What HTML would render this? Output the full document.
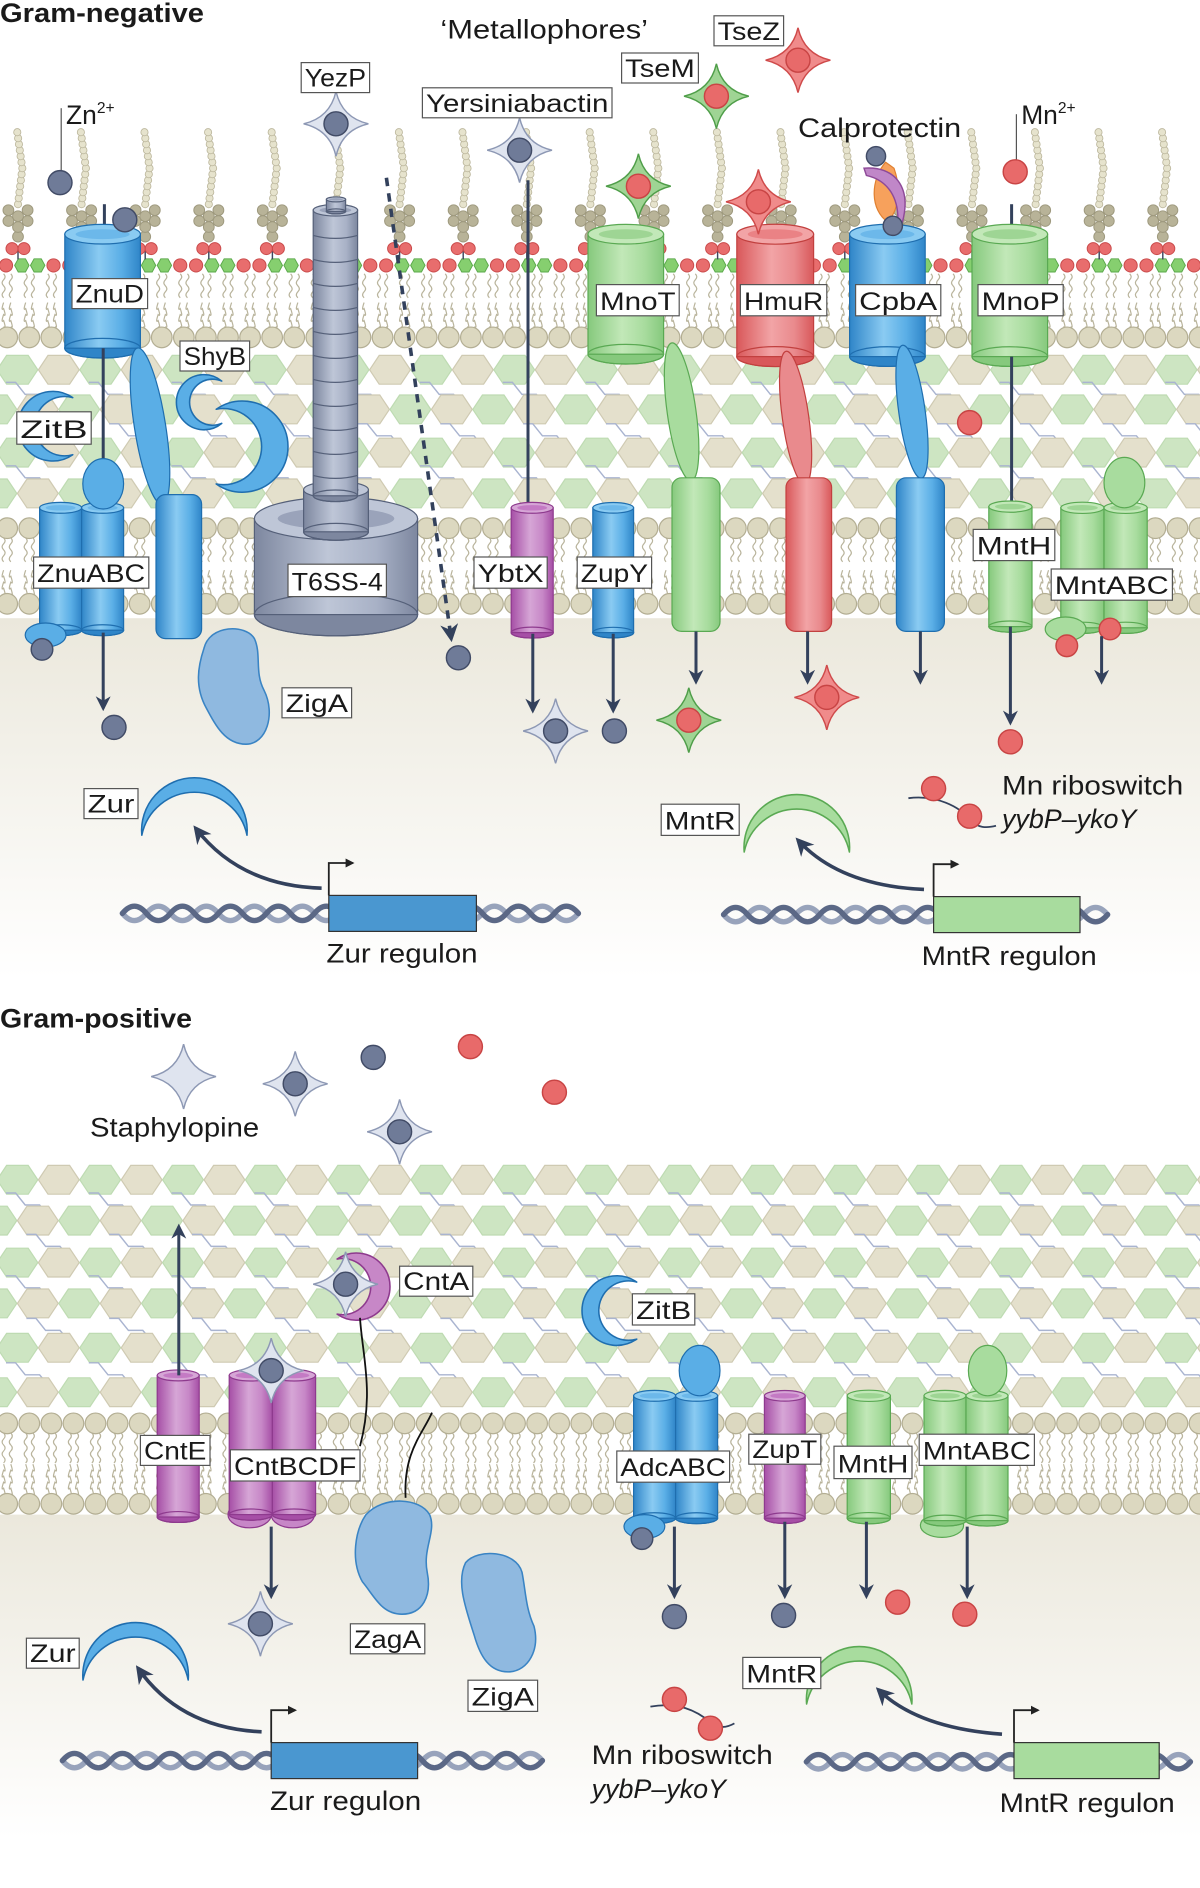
<!DOCTYPE html>
<html><head><meta charset="utf-8">
<style>
html,body{margin:0;padding:0;background:#fff;}
svg{display:block;}
text{font-family:"Liberation Sans",sans-serif;fill:#1a1a1a;}
</style></head>
<body>
<svg id="s" xmlns="http://www.w3.org/2000/svg" width="1200" height="1888" viewBox="0 0 1000 1573"></svg>
<script>
const S=[];const A=s=>S.push(s);
const C={
 blue:{d:'#2f85c8',m:'#5aaee6',l:'#8acbf2',s:'#1f6eaf',t:'#6cb8ea'},
 green:{d:'#86c97d',m:'#a8dc9e',l:'#c2e8b8',s:'#5aa953',t:'#9ed594'},
 red:{d:'#d9585a',m:'#e98a8d',l:'#f2a4a6',s:'#c2403f',t:'#ea8285'},
 purple:{d:'#a64fa6',m:'#c787c7',l:'#d6a6d6',s:'#8e3a8e',t:'#c47ac4'},
 grey:{d:'#7d879f',m:'#a8b1c6',l:'#bec6d7',s:'#556079',t:'#9aa3ba'}};
let defs='<defs>';
for(const k in C){const c=C[k];defs+=`<linearGradient id="g_${k}" x1="0" x2="1" y1="0" y2="0"><stop offset="0" stop-color="${c.d}"/><stop offset="0.45" stop-color="${c.l}"/><stop offset="0.75" stop-color="${c.m}"/><stop offset="1" stop-color="${c.d}"/></linearGradient>`;}
defs+=`<linearGradient id="cyt1" x1="0" x2="0" y1="0" y2="1"><stop offset="0" stop-color="#ebe8dc"/><stop offset="1" stop-color="#ffffff"/></linearGradient>`;
defs+=`<marker id="ah" viewBox="0 0 10 10" refX="8" refY="5" markerWidth="5" markerHeight="5" orient="auto-start-reverse"><path d="M0,0 L10,5 L0,10 L3,5 Z" fill="#33415c"/></marker>`;
defs+=`<marker id="ahk" viewBox="0 0 10 10" refX="8" refY="5" markerWidth="5" markerHeight="5" orient="auto"><path d="M0,0 L10,5 L0,10 Z" fill="#222"/></marker>`;
defs+='</defs>';A(defs);

A(`<rect x="0" y="515" width="1000" height="300" fill="url(#cyt1)"/>`);
A(`<rect x="0" y="1262" width="1000" height="270" fill="url(#cyt1)"/>`);

const BALL='#dcd8c0',BALLS='#b3ae93';
function wav(x,y,len,dir){let d=`M${x},${y}`;const n=Math.floor(len/5);for(let i=0;i<n;i++){d+=` q${i%2?-2.5:2.5},2.5 0,${5*dir}`;}return `<path d="${d}" fill="none" stroke="#b9b49c" stroke-width="1"/>`;}
function bilayer(yt,yb){
 for(let x=6;x<1005;x+=18.4){A(wav(x-3,yt+8,(yb-yt)/2-8,1));A(wav(x+3,yt+8,(yb-yt)/2-8,1));A(wav(x-3,yb-8,(yb-yt)/2-8,-1));A(wav(x+3,yb-8,(yb-yt)/2-8,-1));}
 for(let x=6;x<1005;x+=18.4){A(`<circle cx="${x}" cy="${yt}" r="8.6" fill="${BALL}" stroke="${BALLS}" stroke-width="1"/>`);A(`<circle cx="${x}" cy="${yb}" r="8.6" fill="${BALL}" stroke="${BALLS}" stroke-width="1"/>`);}
}
function hex(x,y,col){return `<polygon points="${x-17},${y} ${x-9},${y-12} ${x+9},${y-12} ${x+17},${y} ${x+9},${y+12} ${x-9},${y+12}" fill="${col}" stroke="${col=='#cde5c2'?'#bedbb2':'#cfcab2'}" stroke-width="1"/>`;}
function pg(rows){
 rows.forEach((y,i)=>{const off=i%2?17:0;let k=i%2;
  for(let x=-20+off;x<1020;x+=34.5){A(hex(x,y,(k++)%2?'#cde5c2':'#e4e0cc'));}
  if(i<rows.length-1){const y2=(y+rows[i+1])/2;for(let x=5+off;x<1000;x+=69){A(`<path d="M${x},${y2-6} h8 l8,10 h12 l5,6" fill="none" stroke="#a9b4d0" stroke-width="1.2"/>`);}}
 });
}
pg([308,341,377,411]);
bilayer(440,503);
for(let x=6;x<1005;x+=18.4){A(wav(x-3,228,22,1));A(wav(x+3,228,22,1));A(wav(x-3,272,20,-1));A(wav(x+3,272,20,-1));}
for(let x=6;x<1005;x+=18.4){A(`<circle cx="${x}" cy="281" r="8.6" fill="${BALL}" stroke="${BALLS}"/>`);}
for(let i=0,x=5;x<1005;i++,x+=13.2){const t=i%4;if(t==0||t==3)A(`<circle cx="${x}" cy="221" r="5.5" fill="#e86d6d" stroke="#c94a4a" stroke-width="0.8"/>`);else A(`<polygon points="${x-6},221 ${x-3},215.5 ${x+3},215.5 ${x+6},221 ${x+3},226.5 ${x-3},226.5" fill="#86cf6f" stroke="#5aa84a" stroke-width="0.8"/>`);}
for(let k=0,x=15;x<1000;k++,x+=53){
 A(`<line x1="${x}" y1="206" x2="${x}" y2="216" stroke="#3d475e" stroke-width="1.2"/>`);
 A(`<circle cx="${x-5}" cy="207" r="5" fill="#e86d6d" stroke="#c94a4a" stroke-width="0.8"/><circle cx="${x+5}" cy="207" r="5" fill="#e86d6d" stroke="#c94a4a" stroke-width="0.8"/>`);
 [[0,197],[0,189],[-8,184],[8,184],[-8,175],[8,175],[0,180]].forEach(p=>A(`<circle cx="${x+p[0]}" cy="${p[1]}" r="4.5" fill="#b8b398" stroke="#9e997e" stroke-width="0.8"/>`));
 for(let j=0;j<13;j++){const yy=170-j*5;const xx=x+ (j<6? j*0.6:3.6-(j-6)*0.7);A(`<circle cx="${xx}" cy="${yy}" r="3" fill="#e6e3cd" stroke="#bcb79d" stroke-width="0.7"/>`);}
}
pg([983,1017,1052,1086,1123,1160]);
bilayer(1186,1253);

function cyl(x,y,w,h,k){const c=C[k],ry=w*0.13;
 A(`<ellipse cx="${x+w/2}" cy="${y+h}" rx="${w/2}" ry="${ry}" fill="${c.d}" stroke="${c.s}"/>`);
 A(`<rect x="${x}" y="${y}" width="${w}" height="${h}" fill="url(#g_${k})" stroke="${c.s}" stroke-width="1"/>`);
 A(`<ellipse cx="${x+w/2}" cy="${y+h}" rx="${w/2}" ry="${ry}" fill="none" stroke="${c.s}"/>`);
 A(`<ellipse cx="${x+w/2}" cy="${y}" rx="${w/2}" ry="${ry}" fill="${c.l}" stroke="${c.s}"/>`);
 A(`<ellipse cx="${x+w/2}" cy="${y}" rx="${w/2.8}" ry="${ry*0.5}" fill="${c.t}"/>`);}
function rrect(x,y,w,h,k){const c=C[k];A(`<rect x="${x}" y="${y}" width="${w}" height="${h}" rx="8" fill="url(#g_${k})" stroke="${c.s}"/>`);}
function ell(cx,cy,rx,ry,rot,k){const c=C[k];A(`<ellipse cx="${cx}" cy="${cy}" rx="${rx}" ry="${ry}" transform="rotate(${rot} ${cx} ${cy})" fill="${c.m}" stroke="${c.s}"/>`);}
function ball(cx,cy,t,r){r=r||10;if(t=='z')A(`<circle cx="${cx}" cy="${cy}" r="${r}" fill="#6f7b98" stroke="#414b66" stroke-width="1.2"/>`);else A(`<circle cx="${cx}" cy="${cy}" r="${r}" fill="#e86a6a" stroke="#c84444" stroke-width="1.2"/>`);}
function star(cx,cy,t,b){const f={g:['#dfe4ef','#8d98b4'],gr:['#9fd494','#4f9e49'],r:['#f08b8b','#cf4a4a']}[t];const R=27;
 A(`<path d="M${cx},${cy-R} Q${cx+5},${cy-5} ${cx+R},${cy} Q${cx+5},${cy+5} ${cx},${cy+R} Q${cx-5},${cy+5} ${cx-R},${cy} Q${cx-5},${cy-5} ${cx},${cy-R} Z" fill="${f[0]}" stroke="${f[1]}" stroke-width="1.2"/>`);
 if(b)ball(cx,cy,b,10);}
function cres(cx,cy,R,th,rot,k,ang){const c=C[k];const a=ang*Math.PI/180;const px=R*Math.cos(a),py=R*Math.sin(a);
 const q=R-th;const c0=(R*R-q*q)/(2*(px+q));const r=q+c0;const large=c0<px?1:0;const olarge=(360-2*ang)>180?1:0;
 A(`<path d="M${px.toFixed(2)},${(-py).toFixed(2)} A${R},${R} 0 ${olarge} 0 ${px.toFixed(2)},${py.toFixed(2)} A${r.toFixed(2)},${r.toFixed(2)} 0 ${large} 1 ${px.toFixed(2)},${(-py).toFixed(2)} Z" transform="translate(${cx},${cy}) rotate(${rot})" fill="${c.m}" stroke="${c.s}" stroke-width="1.3" stroke-linejoin="round"/>`);}
function lbl(x1,y1,x2,y2,t){A(`<rect x="${x1}" y="${y1}" width="${x2-x1}" height="${y2-y1}" fill="#fff" stroke="#555" stroke-width="1"/>`);A(`<text x="${x1+3}" y="${y2-5}" font-size="21" textLength="${x2-x1-6}" lengthAdjust="spacingAndGlyphs">${t}</text>`);}
function txt(x,y,t,fs,w,extra){A(`<text x="${x}" y="${y}" font-size="${fs}" ${w?`textLength="${w}" lengthAdjust="spacingAndGlyphs"`:''} ${extra||''}>${t}</text>`);}
function arr(x1,y1,x2,y2){A(`<line x1="${x1}" y1="${y1}" x2="${x2}" y2="${y2}" stroke="#33415c" stroke-width="2.5" marker-end="url(#ah)"/>`);}
function line(x1,y1,x2,y2){A(`<line x1="${x1}" y1="${y1}" x2="${x2}" y2="${y2}" stroke="#33415c" stroke-width="2.5"/>`);}
function blob(d){A(`<path d="${d}" fill="#8fb9e0" stroke="#3a84c4" stroke-width="1.3"/>`);}
function dna(x1,x2,y){let a=`M${x1},${y}`,b=`M${x1},${y}`;const per=40;for(let x=x1;x<x2;x+=per/2){const s=(((x-x1)/(per/2))%2)?12:-12;a+=` Q${x+per/4},${y+s} ${x+per/2},${y}`;b+=` Q${x+per/4},${y-s} ${x+per/2},${y}`;}
 A(`<path d="${b}" fill="none" stroke="#98a3bb" stroke-width="4.5" stroke-linecap="round"/>`);A(`<path d="${a}" fill="none" stroke="#5b6886" stroke-width="4.5" stroke-linecap="round"/>`);}
function gene(x,y,w,col){A(`<rect x="${x}" y="${y}" width="${w}" height="30" fill="${col}" stroke="#333" stroke-width="1"/>`);A(`<path d="M${x},${y} V${y-27} H${x+20}" fill="none" stroke="#222" stroke-width="1.5" marker-end="url(#ahk)"/>`);}
function curve(x1,y1,cx,cy,x2,y2){A(`<path d="M${x1},${y1} Q${cx},${cy} ${x2},${y2}" fill="none" stroke="#33415c" stroke-width="3" marker-end="url(#ah)"/>`);}

// ===== GRAM NEGATIVE =====
A(`<text x="0" y="18" font-size="22" font-weight="bold" textLength="170" lengthAdjust="spacingAndGlyphs">Gram-negative</text>`);
A(`<text x="367" y="32" font-size="22" textLength="173" lengthAdjust="spacingAndGlyphs">‘Metallophores’</text>`);
A(`<line x1="51" y1="90" x2="51" y2="142" stroke="#555" stroke-width="1"/>`);
txt(55,103,'Zn<tspan font-size="13" dy="-9">2+</tspan>',22);
ball(50,152,'z');
line(87,170,87,195);
cyl(54,195,63,95,'blue');ball(104,183,'z');
line(86,290,86,388);
cres(44,355,29,14,0,'blue',55);
cyl(33,423,35,102,'blue');cyl(68,423,35,102,'blue');
A(`<ellipse cx="86" cy="403" rx="17" ry="21" fill="#5aaee6" stroke="#1f6eaf"/>`);
A(`<ellipse cx="38" cy="529" rx="17" ry="10" fill="#5aaee6" stroke="#1f6eaf"/>`);ball(35,541,'z',9);
arr(86,527,86,590);ball(95,606,'z');
ell(125,355,13,66,-9,'blue');rrect(130,412,38,120,'blue');
cres(170,335,23,11,0,'blue',50);
cres(202,372,38,22,180,'blue',55);
blob('M170,540 C175,520 205,520 212,532 C218,545 212,560 220,575 C230,595 222,620 205,620 C188,620 180,605 172,590 C162,572 165,555 170,540 Z');
cyl(212,432,136,80,'grey');
cyl(253,408,54,35,'grey');
cyl(261,175,37,238,'grey');
for(let y=196;y<410;y+=20)A(`<path d="M261,${y} Q279.5,${y+5} 298,${y}" fill="none" stroke="#556079" stroke-width="1"/>`);
cyl(272,166,16,10,'grey');
star(280,103,'g','z');
A(`<line x1="322" y1="148" x2="376" y2="532" stroke="#33415c" stroke-width="3" stroke-dasharray="7,6" marker-end="url(#ah)"/>`);
ball(382,548,'z');
star(433,125,'g','z');
line(440,150,440,422);
cyl(426,423,35,104,'purple');
arr(444,528,444,592);star(463,609,'g','z');
cyl(494,423,34,104,'blue');
arr(511,528,511,592);ball(512,609,'z');
star(597,80,'gr','r');star(665,50,'r','r');
star(532,155,'gr','r');
cyl(490,195,63,100,'green');
ell(568,343,12,58,-8,'green');rrect(560,398,40,128,'green');
arr(580,526,580,568);star(574,600,'gr','r');
cyl(614,195,64,102,'red');star(632,168,'r','r');
ell(663,348,11,56,-8,'red');rrect(655,398,38,128,'red');
arr(673,526,673,568);star(689,581,'r','r');
cyl(708,195,63,102,'blue');
A(`<path d="M738,135 C725,150 725,175 740,185 C748,175 752,160 745,140 Z" fill="#f7a15c" stroke="#e08030"/>`);
A(`<path d="M720,140 C745,138 760,155 752,185 L748,188 C750,165 740,150 722,146 Z" fill="#c087c8" stroke="#8e4a98" stroke-width="1.2"/>`);
ball(730,130,'z',8);ball(744,188,'z',8);
ell(760,343,11,56,-8,'blue');rrect(747,398,40,128,'blue');
arr(767,526,767,568);
A(`<line x1="847" y1="95" x2="847" y2="135" stroke="#555" stroke-width="1"/>`);
txt(851,103,'Mn<tspan font-size="13" dy="-9">2+</tspan>',22);
ball(846,143,'m');
line(843,170,843,195);
cyl(810,195,63,102,'green');
line(843,297,843,422);
ball(808,352,'m');
cyl(824,422,36,100,'green');
arr(842,522,842,602);ball(842,618,'m');
cyl(884,423,36,100,'green');cyl(920,423,36,100,'green');
A(`<ellipse cx="937" cy="402" rx="17" ry="21" fill="#a8dc9e" stroke="#5aa953"/>`);
A(`<ellipse cx="888" cy="524" rx="17" ry="10" fill="#a8dc9e" stroke="#5aa953"/>`);
ball(889,538,'m',9);ball(925,524,'m',9);
arr(918,530,918,568);
// regulation top
cres(162,692,44,12,90,'blue',85);
curve(268,740,200,738,163,690);
dna(102,480,761);gene(274,746,123,'#4a97d0');
txt(272,802,'Zur regulon',22,126);
cres(664,706,44,12,90,'green',85);
curve(770,741,700,738,665,700);
dna(603,910,762);gene(778,747,122,'#a8dc9e');
txt(768,804,'MntR regulon',22,146);
A(`<path d="M757,665 C780,662 800,672 808,683 C815,690 822,690 830,688" fill="none" stroke="#33415c" stroke-width="1.5"/>`);
ball(778,657,'m');ball(808,680,'m');
txt(835,662,'Mn riboswitch',22,151);
txt(835,690,'yybP–ykoY',22,112,'font-style="italic"');

lbl(251,52,308,77,'YezP');
lbl(352,73,510,98,'Yersiniabactin');
lbl(518,44,582,69,'TseM');
lbl(595,13,653,38,'TseZ');
txt(665,114,'Calprotectin',22,136);
lbl(60,232,123,257,'ZnuD');
lbl(150,284,208,309,'ShyB');
lbl(14,343,76,370,'ZitB');
lbl(28,464,124,490,'ZnuABC');
lbl(240,470,322,497,'T6SS-4');
lbl(235,573,293,598,'ZigA');
lbl(395,464,456,490,'YbtX');
lbl(481,464,543,490,'ZupY');
lbl(497,237,566,263,'MnoT');
lbl(617,237,689,263,'HmuR');
lbl(713,237,784,263,'CpbA');
lbl(815,237,886,263,'MnoP');
lbl(811,441,879,467,'MntH');
lbl(876,474,977,500,'MntABC');
lbl(70,657,115,682,'Zur');
lbl(551,670,616,696,'MntR');

// ===== GRAM POSITIVE =====
A(`<text x="0" y="856" font-size="22" font-weight="bold" textLength="160" lengthAdjust="spacingAndGlyphs">Gram-positive</text>`);
star(153,897,'g');star(246,903,'g','z');ball(311,881,'z');ball(392,872,'m');ball(462,910,'m');star(333,943,'g','z');
txt(75,947,'Staphylopine',22,141);
cyl(131,1146,35,118,'purple');
arr(149,1146,149,1022);
A(`<ellipse cx="208" cy="1262" rx="18" ry="11" fill="#c787c7" stroke="#8e3a8e"/><ellipse cx="244" cy="1262" rx="18" ry="11" fill="#c787c7" stroke="#8e3a8e"/>`);
cyl(191,1146,36,116,'purple');cyl(227,1146,36,116,'purple');
star(226,1142,'g','z');
arr(226,1272,226,1330);star(217,1353,'g','z');
cres(297,1072,28,16,180,'purple',55);
star(288,1070,'g','z');
A(`<path d="M300,1098 C302,1130 312,1160 300,1205" fill="none" stroke="#111" stroke-width="1.5"/>`);
A(`<path d="M360,1177 C352,1195 336,1210 338,1248" fill="none" stroke="#111" stroke-width="1.5"/>`);
blob('M305,1262 C320,1246 350,1248 358,1262 C364,1276 352,1290 356,1310 C360,1330 352,1345 335,1345 C318,1345 312,1330 302,1318 C292,1300 296,1275 305,1262 Z');
blob('M388,1302 C398,1290 430,1292 435,1310 C438,1325 438,1340 445,1355 C450,1375 440,1392 425,1393 C408,1394 400,1380 395,1362 C388,1340 380,1318 388,1302 Z');
cres(514,1092,29,14,0,'blue',55);
cyl(528,1163,35,102,'blue');cyl(563,1163,35,102,'blue');
A(`<ellipse cx="583" cy="1142" rx="17" ry="21" fill="#5aaee6" stroke="#1f6eaf"/>`);
A(`<ellipse cx="537" cy="1272" rx="17" ry="10" fill="#5aaee6" stroke="#1f6eaf"/>`);ball(535,1282,'z',9);
arr(562,1272,562,1330);ball(562,1347,'z');
cyl(637,1163,34,102,'purple');arr(654,1268,654,1330);ball(653,1346,'z');
cyl(706,1163,36,102,'green');arr(722,1268,722,1330);ball(748,1335,'m');
A(`<ellipse cx="785" cy="1271" rx="18" ry="10" fill="#a8dc9e" stroke="#5aa953"/>`);
cyl(770,1163,35,104,'green');cyl(805,1163,35,104,'green');
A(`<ellipse cx="823" cy="1142" rx="16" ry="21" fill="#a8dc9e" stroke="#5aa953"/>`);
arr(806,1272,806,1330);ball(804,1345,'m');
cres(113,1396,44,12,90,'blue',85);
curve(218,1443,150,1440,115,1390);
dna(52,435,1467);gene(226,1452,122,'#4a97d0');
txt(225,1508,'Zur regulon',22,126);
cres(716,1416,44,12,90,'green',85);
curve(835,1445,765,1440,732,1408);
dna(672,980,1468);gene(845,1452,121,'#a8dc9e');
txt(833,1510,'MntR regulon',22,146);
A(`<path d="M542,1422 C565,1418 580,1425 592,1435 C598,1440 605,1440 612,1436" fill="none" stroke="#33415c" stroke-width="1.5"/>`);
ball(562,1416,'m');ball(592,1440,'m');
txt(493,1470,'Mn riboswitch',22,151);
txt(493,1498,'yybP–ykoY',22,112,'font-style="italic"');
lbl(333,1055,394,1080,'CntA');
lbl(117,1196,175,1221,'CntE');
lbl(192,1208,300,1234,'CntBCDF');
lbl(527,1078,579,1104,'ZitB');
lbl(514,1209,608,1235,'AdcABC');
lbl(624,1195,684,1220,'ZupT');
lbl(695,1205,760,1232,'MntH');
lbl(766,1195,862,1221,'MntABC');
lbl(292,1353,354,1378,'ZagA');
lbl(390,1400,448,1426,'ZigA');
lbl(22,1365,66,1390,'Zur');
lbl(619,1381,684,1407,'MntR');

document.getElementById('s').innerHTML=S.join('');
</script>
</body></html>
